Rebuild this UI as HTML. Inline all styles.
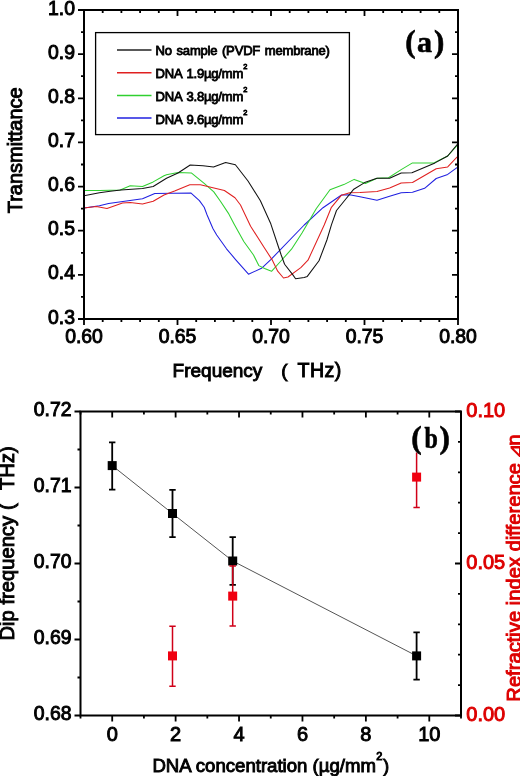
<!DOCTYPE html><html><head><meta charset="utf-8"><style>html,body{margin:0;padding:0;background:#fff;width:520px;height:776px;overflow:hidden}svg{display:block}text{font-family:"Liberation Sans",Arial,sans-serif;stroke:currentColor;stroke-width:0.95px}.tb text{font-family:"Liberation Serif",serif;stroke:#000;stroke-width:0.6px}</style></head><body>
<svg width="520" height="776" viewBox="0 0 520 776">
<defs><clipPath id="ca"><rect x="84" y="10" width="374" height="309"/></clipPath></defs>
<g clip-path="url(#ca)" fill="none" stroke-width="1.05" stroke-linejoin="round">
<polyline points="84.0,208.1 99.4,205.8 108.6,203.5 142.5,198.8 154.8,193.5 190.8,192.9 199.4,200.6 204.2,207.3 207.1,215.0 212.9,228.5 216.7,235.0 226.5,248.8 235.8,259.8 248.5,274.2 261.5,268.3 270.8,259.6 304.2,225.0 323.0,207.7 341.5,195.0 349.6,194.8 360.0,196.7 377.0,200.2 389.6,196.2 401.2,192.7 412.5,192.3 424.6,188.3 436.2,178.5 447.7,174.4 458.0,166.9" stroke="#2020e0"/>
<polyline points="84.0,190.4 99.4,190.4 120.2,189.9 130.2,185.8 142.5,186.5 153.2,181.9 164.0,175.8 166.5,174.8 178.0,172.5 191.3,172.9 204.2,183.3 213.8,191.9 220.6,201.5 228.3,213.1 234.2,224.2 243.8,241.5 253.5,255.0 258.8,265.6 264.6,268.5 271.5,271.3 280.0,262.0 291.5,249.2 302.0,233.0 316.2,208.8 330.0,189.8 343.8,184.6 354.2,179.4 365.4,183.5 377.0,178.3 388.5,177.7 401.2,169.6 412.5,162.9 433.8,162.9 447.7,156.0 458.0,144.5" stroke="#30d030"/>
<polyline points="84.0,208.1 96.3,206.5 107.0,208.5 122.5,203.0 130.2,202.4 142.5,203.9 153.2,201.2 164.0,195.0 174.6,191.0 189.8,184.7 200.4,184.7 224.4,190.5 235.0,197.7 240.5,205.0 250.6,226.2 264.0,247.3 272.0,259.6 277.7,271.2 283.5,278.0 288.0,277.0 300.8,267.7 308.0,260.2 324.2,225.0 331.2,207.7 341.5,195.2 349.6,192.7 360.0,192.5 377.0,191.5 389.6,188.0 401.2,182.9 412.5,182.5 436.2,168.7 447.7,166.9 458.0,156.0" stroke="#e02020"/>
<polyline points="84.0,195.8 99.4,192.7 110.2,191.2 120.9,190.1 142.5,188.5 153.2,186.5 166.5,178.3 178.0,173.0 190.2,165.0 203.0,165.7 213.5,167.0 225.6,162.5 235.4,164.8 248.0,181.0 260.4,200.8 270.8,223.8 278.8,248.0 281.2,255.0 284.6,264.2 292.7,274.6 295.6,278.7 304.2,277.5 307.3,276.4 319.0,260.8 326.9,240.0 331.5,224.6 336.5,210.5 344.6,200.5 353.8,189.2 364.6,182.6 377.0,178.3 389.6,178.3 401.2,173.0 411.9,172.7 435.0,162.9 447.7,156.0 458.0,143.5" stroke="#111"/>
</g>
<rect x="84" y="10" width="374" height="309" fill="none" stroke="#000" stroke-width="2"/>
<path d="M84.00 319v6M84.00 10v6M102.70 319v3M102.70 10v3M121.40 319v3M121.40 10v3M140.10 319v3M140.10 10v3M158.80 319v3M158.80 10v3M177.50 319v6M177.50 10v6M196.20 319v3M196.20 10v3M214.90 319v3M214.90 10v3M233.60 319v3M233.60 10v3M252.30 319v3M252.30 10v3M271.00 319v6M271.00 10v6M289.70 319v3M289.70 10v3M308.40 319v3M308.40 10v3M327.10 319v3M327.10 10v3M345.80 319v3M345.80 10v3M364.50 319v6M364.50 10v6M383.20 319v3M383.20 10v3M401.90 319v3M401.90 10v3M420.60 319v3M420.60 10v3M439.30 319v3M439.30 10v3M458.00 319v6M458.00 10v6M84 10.00h-6M458 10.00h-6M84 32.07h-3M458 32.07h-3M84 54.14h-6M458 54.14h-6M84 76.21h-3M458 76.21h-3M84 98.29h-6M458 98.29h-6M84 120.36h-3M458 120.36h-3M84 142.43h-6M458 142.43h-6M84 164.50h-3M458 164.50h-3M84 186.57h-6M458 186.57h-6M84 208.64h-3M458 208.64h-3M84 230.71h-6M458 230.71h-6M84 252.79h-3M458 252.79h-3M84 274.86h-6M458 274.86h-6M84 296.93h-3M458 296.93h-3M84 319.00h-6M458 319.00h-6" stroke="#000" stroke-width="1.8" fill="none"/>
<g font-size="19.4" fill="#000" color="#000">
<text x="84.0" y="343" text-anchor="middle">0.60</text>
<text x="177.5" y="343" text-anchor="middle">0.65</text>
<text x="271.0" y="343" text-anchor="middle">0.70</text>
<text x="364.5" y="343" text-anchor="middle">0.75</text>
<text x="458.0" y="343" text-anchor="middle">0.80</text>
<text x="75" y="14.5" text-anchor="end">1.0</text>
<text x="75" y="58.6" text-anchor="end">0.9</text>
<text x="75" y="102.8" text-anchor="end">0.8</text>
<text x="75" y="146.9" text-anchor="end">0.7</text>
<text x="75" y="191.1" text-anchor="end">0.6</text>
<text x="75" y="235.2" text-anchor="end">0.5</text>
<text x="75" y="279.4" text-anchor="end">0.4</text>
<text x="75" y="323.5" text-anchor="end">0.3</text>
</g>
<text x="172.6" y="376.6" font-size="19">Frequency</text><text x="281.3" y="376.6" font-size="19">(</text><text x="297.6" y="376.6" font-size="19.6" letter-spacing="0.4">THz)</text>
<text transform="translate(21.6,213.3) rotate(-90)" font-size="20">Transmittance</text>
<rect x="95.6" y="32.6" width="253.8" height="102" fill="none" stroke="#000" stroke-width="1.3"/>
<line x1="117" y1="50.0" x2="151.5" y2="50.0" stroke="#222" stroke-width="1.5"/>
<text x="155.6" y="55.4" font-size="13.05" letter-spacing="-0.2" word-spacing="1.2" style="stroke-width:0.85px">No sample (PVDF membrane)</text>
<line x1="117" y1="72.7" x2="151.5" y2="72.7" stroke="#e02020" stroke-width="1.5"/>
<text x="155.6" y="78.1" font-size="13.05" letter-spacing="-0.2" word-spacing="1.2" style="stroke-width:0.85px">DNA 1.9µg/mm<tspan font-size="7.4" dy="-8.9">2</tspan></text>
<line x1="117" y1="95.4" x2="151.5" y2="95.4" stroke="#30d030" stroke-width="1.5"/>
<text x="155.6" y="100.8" font-size="13.05" letter-spacing="-0.2" word-spacing="1.2" style="stroke-width:0.85px">DNA 3.8µg/mm<tspan font-size="7.4" dy="-8.9">2</tspan></text>
<line x1="117" y1="118.1" x2="151.5" y2="118.1" stroke="#2020e0" stroke-width="1.5"/>
<text x="155.6" y="123.5" font-size="13.05" letter-spacing="-0.2" word-spacing="1.2" style="stroke-width:0.85px">DNA 9.6µg/mm<tspan font-size="7.4" dy="-8.9">2</tspan></text>
<g font-weight="bold" class="tb"><text x="405.2" y="51.7" font-size="31">(</text><text x="416.9" y="51.7" font-size="30">a</text><text x="434.1" y="51.7" font-size="31">)</text></g>
<rect x="80.5" y="411.5" width="380.5" height="304.0" fill="none" stroke="#000" stroke-width="2"/>
<path d="M80.50 715.5v3M80.50 411.5v3M112.21 715.5v6M112.21 411.5v6M143.92 715.5v3M143.92 411.5v3M175.62 715.5v6M175.62 411.5v6M207.33 715.5v3M207.33 411.5v3M239.04 715.5v6M239.04 411.5v6M270.75 715.5v3M270.75 411.5v3M302.46 715.5v6M302.46 411.5v6M334.17 715.5v3M334.17 411.5v3M365.88 715.5v6M365.88 411.5v6M397.58 715.5v3M397.58 411.5v3M429.29 715.5v6M429.29 411.5v6M461.00 715.5v3M461.00 411.5v3M80.5 411.50h-6M80.5 449.50h-3M80.5 487.50h-6M80.5 525.50h-3M80.5 563.50h-6M80.5 601.50h-3M80.5 639.50h-6M80.5 677.50h-3M80.5 715.50h-6M461 411.50h-6M461 441.90h-3M461 472.30h-3M461 502.70h-3M461 533.10h-3M461 563.50h-6M461 593.90h-3M461 624.30h-3M461 654.70h-3M461 685.10h-3M461 715.50h-6" stroke="#000" stroke-width="1.8" fill="none"/>
<g font-size="19.4" fill="#000" color="#000">
<text x="112.2" y="741.2" font-size="20" text-anchor="middle">0</text>
<text x="175.6" y="741.2" font-size="20" text-anchor="middle">2</text>
<text x="239.0" y="741.2" font-size="20" text-anchor="middle">4</text>
<text x="302.5" y="741.2" font-size="20" text-anchor="middle">6</text>
<text x="365.9" y="741.2" font-size="20" text-anchor="middle">8</text>
<text x="429.3" y="741.2" font-size="20" text-anchor="middle">10</text>
<text x="71.5" y="416.1" text-anchor="end">0.72</text>
<text x="71.5" y="492.1" text-anchor="end">0.71</text>
<text x="71.5" y="568.1" text-anchor="end">0.70</text>
<text x="71.5" y="644.1" text-anchor="end">0.69</text>
<text x="71.5" y="720.1" text-anchor="end">0.68</text>
</g>
<g font-size="20" fill="#dd0000" color="#dd0000">
<text x="466.3" y="416.5">0.10</text>
<text x="466.3" y="568.5">0.05</text>
<text x="466.3" y="720.5">0.00</text>
</g>
<text x="152.4" y="771.8" font-size="18.6">DNA concentration (µg/mm<tspan font-size="11" dy="-12.2" dx="0.3">2</tspan><tspan dy="12.2" dx="0.6">)</tspan></text>
<g transform="translate(13.9,640.5) rotate(-90)" font-size="20.2"><text x="0" y="0">Dip frequency</text><text x="130.6" y="0">(</text><text x="150.5" y="0">THz)</text></g>
<text transform="translate(520.6,701.7) rotate(-90)" font-size="20.2" fill="#dd0000" color="#dd0000">Refractive index difference<tspan dx="4" font-size="17.8" style="font-family:'DejaVu Sans',sans-serif">⊿</tspan><tspan dx="-1.5">n</tspan></text>
<polyline points="112.2,465.6 172.5,513.5 232.7,561 416.6,655.9" fill="none" stroke="#555" stroke-width="1"/>
<path d="M112.2 442.4V489.7M109.0 442.4h6.4M109.0 489.7h6.4" stroke="#000" stroke-width="1.8"/>
<rect x="107.7" y="461.1" width="9" height="9" fill="#000"/>
<path d="M172.5 489.9V537.2M169.3 489.9h6.4M169.3 537.2h6.4" stroke="#000" stroke-width="1.8"/>
<rect x="168.0" y="509.0" width="9" height="9" fill="#000"/>
<path d="M232.7 537.1V584.9M229.5 537.1h6.4M229.5 584.9h6.4" stroke="#000" stroke-width="1.8"/>
<rect x="228.2" y="556.5" width="9" height="9" fill="#000"/>
<path d="M416.6 632.4V679.6M413.4 632.4h6.4M413.4 679.6h6.4" stroke="#000" stroke-width="1.8"/>
<rect x="412.1" y="651.4" width="9" height="9" fill="#000"/>
<path d="M172.5 626.3V686.3M169.3 626.3h6.4M169.3 686.3h6.4" stroke="#d00018" stroke-width="1.5"/>
<rect x="168.0" y="651.4" width="9" height="9" fill="#f00010"/>
<path d="M232.7 566.1V626.1M229.5 566.1h6.4M229.5 626.1h6.4" stroke="#d00018" stroke-width="1.5"/>
<rect x="228.2" y="591.6" width="9" height="9" fill="#f00010"/>
<path d="M416.6 452.5V507.5M413.4 507.5h6.4" stroke="#d00018" stroke-width="1.5"/>
<rect x="412.1" y="472.6" width="9" height="9" fill="#f00010"/>
<g font-weight="bold" class="tb"><text x="411.3" y="447.8" font-size="31.3">(</text><text transform="translate(424.5,447.8) scale(0.8,1)" font-size="30">b</text><text x="439.6" y="447.8" font-size="31.3">)</text></g>
</svg></body></html>
